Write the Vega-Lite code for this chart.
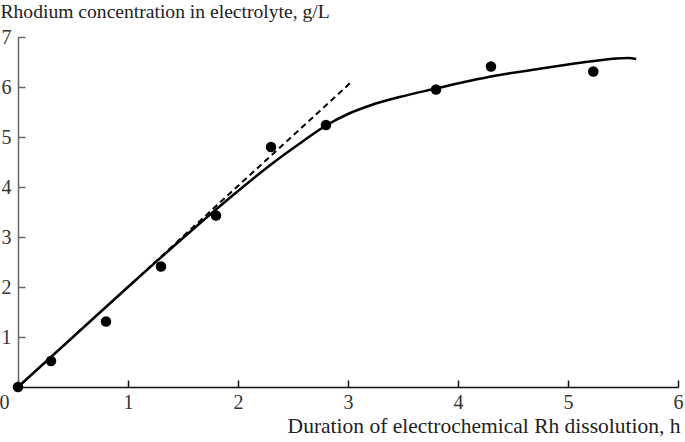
{
  "$schema": "https://vega.github.io/schema/vega-lite/v6.json",
  "width": 660,
  "height": 350,
  "autosize": {"type": "none"},
  "padding": {"left": 18, "top": 37, "right": 7, "bottom": 55},
  "background": "white",
  "config": {
    "view": {"stroke": null},
    "font": "Liberation Serif",
    "axis": {"grid": false, "labelFont": "Liberation Serif", "titleFont": "Liberation Serif", "labelColor": "#333", "titleColor": "#222", "titleFontWeight": "normal"}
  },
  "datasets": {
    "curve": [
      {"t": 0, "c": 0}, {"t": 0.5, "c": 1.0}, {"t": 1.0, "c": 2.0}, {"t": 1.5, "c": 2.98},
      {"t": 1.8, "c": 3.55}, {"t": 2.0, "c": 3.92}, {"t": 2.3, "c": 4.45}, {"t": 2.6, "c": 4.93},
      {"t": 2.8, "c": 5.23}, {"t": 3.0, "c": 5.46}, {"t": 3.2, "c": 5.63}, {"t": 3.47, "c": 5.8},
      {"t": 3.8, "c": 5.97}, {"t": 4.1, "c": 6.12}, {"t": 4.35, "c": 6.23}, {"t": 4.7, "c": 6.35},
      {"t": 5.0, "c": 6.45}, {"t": 5.2, "c": 6.51}, {"t": 5.44, "c": 6.57}, {"t": 5.55, "c": 6.58},
      {"t": 5.62, "c": 6.56}
    ],
    "tangent": [{"t": 0.9, "c": 1.8}, {"t": 3.04, "c": 6.12}],
    "points": [
      {"t": 0, "c": 0}, {"t": 0.3, "c": 0.52}, {"t": 0.8, "c": 1.31}, {"t": 1.3, "c": 2.41},
      {"t": 1.8, "c": 3.43}, {"t": 2.3, "c": 4.8}, {"t": 2.8, "c": 5.24}, {"t": 3.8, "c": 5.95},
      {"t": 4.3, "c": 6.41}, {"t": 5.23, "c": 6.31}
    ]
  },
  "encoding": {
    "x": {
      "field": "t", "type": "quantitative",
      "scale": {"domain": [0, 6], "nice": false, "zero": false},
      "axis": {
        "values": [0, 1, 2, 3, 4, 5, 6],
        "title": "Duration of electrochemical Rh dissolution, h",
        "titleFontSize": 21.5, "titleAlign": "right", "titleBaseline": "alphabetic",
        "titleX": 662, "titleY": 45,
        "labelFontSize": 20, "labelPadding": 12, "labelBaseline": "top",
        "labelOffset": {"condition": {"test": "datum.value == 0", "value": -14}, "value": 0},
        "labelFlush": false, "labelOverlap": false,
        "domainColor": "#111", "domainWidth": 1.5,
        "tickColor": "#111", "tickWidth": 1.5, "tickSize": -7
      }
    },
    "y": {
      "field": "c", "type": "quantitative",
      "scale": {"domain": [0, 7], "nice": false},
      "axis": {
        "values": [1, 2, 3, 4, 5, 6, 7],
        "title": "Rhodium concentration in electrolyte, g/L",
        "titleFontSize": 19.6, "titleAngle": 0, "titleAlign": "left", "titleBaseline": "alphabetic",
        "titleX": -18, "titleY": -20,
        "labelFontSize": 20, "labelPadding": 14,
        "labelFlush": false, "labelOverlap": false,
        "domainColor": "#666", "domainWidth": 1.5,
        "tickColor": "#666", "tickWidth": 1.5, "tickSize": -7
      }
    }
  },
  "layer": [
    {
      "data": {"name": "curve"},
      "mark": {"type": "line", "color": "black", "strokeWidth": 2.5, "interpolate": "monotone"}
    },
    {
      "data": {"name": "tangent"},
      "mark": {"type": "line", "color": "black", "strokeWidth": 2, "strokeDash": [6, 4]}
    },
    {
      "data": {"name": "points"},
      "mark": {"type": "point", "filled": true, "color": "black", "opacity": 1, "size": 110}
    }
  ]
}
